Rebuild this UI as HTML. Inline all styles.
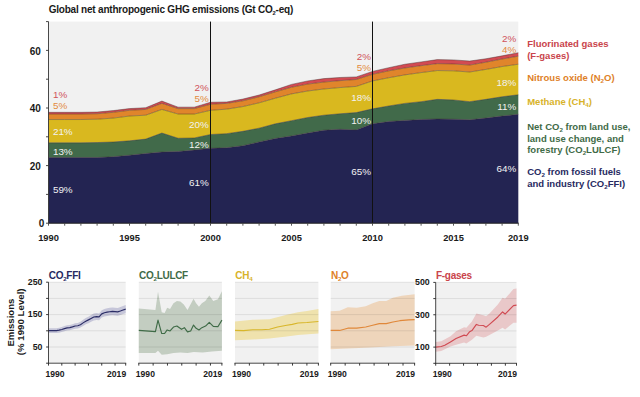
<!DOCTYPE html>
<html><head><meta charset="utf-8"><style>
html,body{margin:0;padding:0;background:#fff;width:640px;height:397px;overflow:hidden}
svg{display:block}
text{font-family:"Liberation Sans",sans-serif}
.b10{font-size:10px;font-weight:bold;fill:#1a1a1a}
.b95{font-size:9.5px;font-weight:bold;fill:#1a1a1a}
.b9{font-size:9px;font-weight:bold;fill:#1a1a1a}
.b8{font-size:8px;font-weight:bold;fill:#1a1a1a}
.b85{font-size:8.6px;font-weight:bold;fill:#1a1a1a}
.b88{font-size:8.8px;font-weight:bold;fill:#1a1a1a}
.r9{font-size:9.9px}
</style></head><body>
<svg width="640" height="397" viewBox="0 0 640 397">
<rect x="48.5" y="21.6" width="469.8" height="201.6" fill="#f1f1f1"/>
<path d="M48.5,112.32 L64.7,112.32 L80.9,112.32 L97.1,112.03 L113.3,110.59 L129.5,108.58 L145.7,107.71 L161.9,101.09 L178.1,107.14 L194.3,107.14 L210.5,102.24 L226.7,101.95 L242.9,99.07 L259.1,95.04 L275.3,89.86 L291.5,84.38 L307.7,80.93 L323.9,78.62 L340.1,77.47 L356.3,76.9 L372.5,71.42 L388.7,67.68 L404.9,64.22 L421.1,61.92 L437.3,59.62 L453.5,59.9 L469.7,61.06 L485.9,58.75 L502.1,55.87 L518.3,52.7 L518.3,56.16 L502.1,59.04 L485.9,62.21 L469.7,65.09 L453.5,63.94 L437.3,63.65 L421.1,65.66 L404.9,67.97 L388.7,70.85 L372.5,74.3 L356.3,79.49 L340.1,80.64 L323.9,82.08 L307.7,84.1 L291.5,87.26 L275.3,91.87 L259.1,96.77 L242.9,100.8 L226.7,103.39 L210.5,104.26 L194.3,108.58 L178.1,108.58 L161.9,103.39 L145.7,109.44 L129.5,110.3 L113.3,112.32 L97.1,113.76 L80.9,114.05 L64.7,114.05 L48.5,114.05Z" fill="#d24b52"/>
<path d="M48.5,114.05 L64.7,114.05 L80.9,114.05 L97.1,113.76 L113.3,112.32 L129.5,110.3 L145.7,109.44 L161.9,103.39 L178.1,108.58 L194.3,108.58 L210.5,104.26 L226.7,103.39 L242.9,100.8 L259.1,96.77 L275.3,91.87 L291.5,87.26 L307.7,84.1 L323.9,82.08 L340.1,80.64 L356.3,79.49 L372.5,74.3 L388.7,70.85 L404.9,67.97 L421.1,65.66 L437.3,63.65 L453.5,63.94 L469.7,65.09 L485.9,62.21 L502.1,59.04 L518.3,56.16 L518.3,64.22 L502.1,66.53 L485.9,69.41 L469.7,72 L453.5,70.85 L437.3,70.56 L421.1,72.58 L404.9,74.88 L388.7,77.76 L372.5,80.93 L356.3,86.4 L340.1,87.55 L323.9,88.99 L307.7,91.01 L291.5,93.89 L275.3,98.21 L259.1,102.82 L242.9,106.56 L226.7,109.15 L210.5,110.3 L194.3,114.05 L178.1,114.05 L161.9,109.44 L145.7,115.2 L129.5,116.06 L113.3,118.08 L97.1,119.23 L80.9,119.52 L64.7,119.52 L48.5,119.52Z" fill="#e0852b"/>
<path d="M48.5,119.52 L64.7,119.52 L80.9,119.52 L97.1,119.23 L113.3,118.08 L129.5,116.06 L145.7,115.2 L161.9,109.44 L178.1,114.05 L194.3,114.05 L210.5,110.3 L226.7,109.15 L242.9,106.56 L259.1,102.82 L275.3,98.21 L291.5,93.89 L307.7,91.01 L323.9,88.99 L340.1,87.55 L356.3,86.4 L372.5,80.93 L388.7,77.76 L404.9,74.88 L421.1,72.58 L437.3,70.56 L453.5,70.85 L469.7,72 L485.9,69.41 L502.1,66.53 L518.3,64.22 L518.3,94.75 L502.1,96.77 L485.9,99.36 L469.7,101.66 L453.5,99.94 L437.3,99.36 L421.1,101.66 L404.9,103.39 L388.7,105.98 L372.5,108.86 L356.3,112.61 L340.1,113.76 L323.9,115.2 L307.7,117.5 L291.5,120.67 L275.3,123.84 L259.1,128.16 L242.9,131.33 L226.7,133.63 L210.5,134.5 L194.3,137.95 L178.1,138.24 L161.9,133.06 L145.7,139.1 L129.5,140.83 L113.3,141.98 L97.1,142.56 L80.9,142.85 L64.7,142.85 L48.5,142.85Z" fill="#d9b81f"/>
<path d="M48.5,142.85 L64.7,142.85 L80.9,142.85 L97.1,142.56 L113.3,141.98 L129.5,140.83 L145.7,139.1 L161.9,133.06 L178.1,138.24 L194.3,137.95 L210.5,134.5 L226.7,133.63 L242.9,131.33 L259.1,128.16 L275.3,123.84 L291.5,120.67 L307.7,117.5 L323.9,115.2 L340.1,113.76 L356.3,112.61 L372.5,108.86 L388.7,105.98 L404.9,103.39 L421.1,101.66 L437.3,99.36 L453.5,99.94 L469.7,101.66 L485.9,99.36 L502.1,96.77 L518.3,94.75 L518.3,114.34 L502.1,116.06 L485.9,118.08 L469.7,119.81 L453.5,119.23 L437.3,118.94 L421.1,119.52 L404.9,120.38 L388.7,121.54 L372.5,123.84 L356.3,129.89 L340.1,129.31 L323.9,130.18 L307.7,133.06 L291.5,135.94 L275.3,138.53 L259.1,141.98 L242.9,145.73 L226.7,147.74 L210.5,148.32 L194.3,150.05 L178.1,151.49 L161.9,152.06 L145.7,153.5 L129.5,155.23 L113.3,156.67 L97.1,157.54 L80.9,157.54 L64.7,157.54 L48.5,157.54Z" fill="#416a4a"/>
<path d="M48.5,157.54 L64.7,157.54 L80.9,157.54 L97.1,157.54 L113.3,156.67 L129.5,155.23 L145.7,153.5 L161.9,152.06 L178.1,151.49 L194.3,150.05 L210.5,148.32 L226.7,147.74 L242.9,145.73 L259.1,141.98 L275.3,138.53 L291.5,135.94 L307.7,133.06 L323.9,130.18 L340.1,129.31 L356.3,129.89 L372.5,123.84 L388.7,121.54 L404.9,120.38 L421.1,119.52 L437.3,118.94 L453.5,119.23 L469.7,119.81 L485.9,118.08 L502.1,116.06 L518.3,114.34 L518.3,223.2 L48.5,223.2Z" fill="#232452"/>
<path d="M48.5,112.32 L64.7,112.32 L80.9,112.32 L97.1,112.03 L113.3,110.59 L129.5,108.58 L145.7,107.71 L161.9,101.09 L178.1,107.14 L194.3,107.14 L210.5,102.24 L226.7,101.95 L242.9,99.07 L259.1,95.04 L275.3,89.86 L291.5,84.38 L307.7,80.93 L323.9,78.62 L340.1,77.47 L356.3,76.9 L372.5,71.42 L388.7,67.68 L404.9,64.22 L421.1,61.92 L437.3,59.62 L453.5,59.9 L469.7,61.06 L485.9,58.75 L502.1,55.87 L518.3,52.7" fill="none" stroke="#3a2a2a" stroke-opacity="0.7" stroke-width="0.6"/>
<path d="M48.5,114.05 L64.7,114.05 L80.9,114.05 L97.1,113.76 L113.3,112.32 L129.5,110.3 L145.7,109.44 L161.9,103.39 L178.1,108.58 L194.3,108.58 L210.5,104.26 L226.7,103.39 L242.9,100.8 L259.1,96.77 L275.3,91.87 L291.5,87.26 L307.7,84.1 L323.9,82.08 L340.1,80.64 L356.3,79.49 L372.5,74.3 L388.7,70.85 L404.9,67.97 L421.1,65.66 L437.3,63.65 L453.5,63.94 L469.7,65.09 L485.9,62.21 L502.1,59.04 L518.3,56.16" fill="none" stroke="#3a2a2a" stroke-opacity="0.7" stroke-width="0.6"/>
<path d="M48.5,119.52 L64.7,119.52 L80.9,119.52 L97.1,119.23 L113.3,118.08 L129.5,116.06 L145.7,115.2 L161.9,109.44 L178.1,114.05 L194.3,114.05 L210.5,110.3 L226.7,109.15 L242.9,106.56 L259.1,102.82 L275.3,98.21 L291.5,93.89 L307.7,91.01 L323.9,88.99 L340.1,87.55 L356.3,86.4 L372.5,80.93 L388.7,77.76 L404.9,74.88 L421.1,72.58 L437.3,70.56 L453.5,70.85 L469.7,72 L485.9,69.41 L502.1,66.53 L518.3,64.22" fill="none" stroke="#3a2a2a" stroke-opacity="0.7" stroke-width="0.6"/>
<path d="M48.5,142.85 L64.7,142.85 L80.9,142.85 L97.1,142.56 L113.3,141.98 L129.5,140.83 L145.7,139.1 L161.9,133.06 L178.1,138.24 L194.3,137.95 L210.5,134.5 L226.7,133.63 L242.9,131.33 L259.1,128.16 L275.3,123.84 L291.5,120.67 L307.7,117.5 L323.9,115.2 L340.1,113.76 L356.3,112.61 L372.5,108.86 L388.7,105.98 L404.9,103.39 L421.1,101.66 L437.3,99.36 L453.5,99.94 L469.7,101.66 L485.9,99.36 L502.1,96.77 L518.3,94.75" fill="none" stroke="#3a2a2a" stroke-opacity="0.7" stroke-width="0.6"/>
<path d="M48.5,157.54 L64.7,157.54 L80.9,157.54 L97.1,157.54 L113.3,156.67 L129.5,155.23 L145.7,153.5 L161.9,152.06 L178.1,151.49 L194.3,150.05 L210.5,148.32 L226.7,147.74 L242.9,145.73 L259.1,141.98 L275.3,138.53 L291.5,135.94 L307.7,133.06 L323.9,130.18 L340.1,129.31 L356.3,129.89 L372.5,123.84 L388.7,121.54 L404.9,120.38 L421.1,119.52 L437.3,118.94 L453.5,119.23 L469.7,119.81 L485.9,118.08 L502.1,116.06 L518.3,114.34" fill="none" stroke="#3a2a2a" stroke-opacity="0.7" stroke-width="0.6"/>
<line x1="210.5" y1="21.6" x2="210.5" y2="223.2" stroke="#111" stroke-width="1"/>
<line x1="372.5" y1="21.6" x2="372.5" y2="223.2" stroke="#111" stroke-width="1"/>
<line x1="48.5" y1="21.6" x2="48.5" y2="223.7" stroke="#333" stroke-width="0.9"/>
<line x1="48.5" y1="223.2" x2="518.8" y2="223.2" stroke="#222" stroke-width="1"/>
<line x1="46" y1="223.2" x2="48.5" y2="223.2" stroke="#333" stroke-width="0.9"/>
<line x1="46" y1="194.4" x2="48.5" y2="194.4" stroke="#333" stroke-width="0.9"/>
<line x1="46" y1="165.6" x2="48.5" y2="165.6" stroke="#333" stroke-width="0.9"/>
<line x1="46" y1="136.8" x2="48.5" y2="136.8" stroke="#333" stroke-width="0.9"/>
<line x1="46" y1="108" x2="48.5" y2="108" stroke="#333" stroke-width="0.9"/>
<line x1="46" y1="79.2" x2="48.5" y2="79.2" stroke="#333" stroke-width="0.9"/>
<line x1="46" y1="50.4" x2="48.5" y2="50.4" stroke="#333" stroke-width="0.9"/>
<line x1="46" y1="21.6" x2="48.5" y2="21.6" stroke="#333" stroke-width="0.9"/>
<line x1="48.5" y1="223.2" x2="48.5" y2="225.7" stroke="#444" stroke-width="0.9"/>
<line x1="64.7" y1="223.2" x2="64.7" y2="225.7" stroke="#444" stroke-width="0.9"/>
<line x1="80.9" y1="223.2" x2="80.9" y2="225.7" stroke="#444" stroke-width="0.9"/>
<line x1="97.1" y1="223.2" x2="97.1" y2="225.7" stroke="#444" stroke-width="0.9"/>
<line x1="113.3" y1="223.2" x2="113.3" y2="225.7" stroke="#444" stroke-width="0.9"/>
<line x1="129.5" y1="223.2" x2="129.5" y2="225.7" stroke="#444" stroke-width="0.9"/>
<line x1="145.7" y1="223.2" x2="145.7" y2="225.7" stroke="#444" stroke-width="0.9"/>
<line x1="161.9" y1="223.2" x2="161.9" y2="225.7" stroke="#444" stroke-width="0.9"/>
<line x1="178.1" y1="223.2" x2="178.1" y2="225.7" stroke="#444" stroke-width="0.9"/>
<line x1="194.3" y1="223.2" x2="194.3" y2="225.7" stroke="#444" stroke-width="0.9"/>
<line x1="210.5" y1="223.2" x2="210.5" y2="225.7" stroke="#444" stroke-width="0.9"/>
<line x1="226.7" y1="223.2" x2="226.7" y2="225.7" stroke="#444" stroke-width="0.9"/>
<line x1="242.9" y1="223.2" x2="242.9" y2="225.7" stroke="#444" stroke-width="0.9"/>
<line x1="259.1" y1="223.2" x2="259.1" y2="225.7" stroke="#444" stroke-width="0.9"/>
<line x1="275.3" y1="223.2" x2="275.3" y2="225.7" stroke="#444" stroke-width="0.9"/>
<line x1="291.5" y1="223.2" x2="291.5" y2="225.7" stroke="#444" stroke-width="0.9"/>
<line x1="307.7" y1="223.2" x2="307.7" y2="225.7" stroke="#444" stroke-width="0.9"/>
<line x1="323.9" y1="223.2" x2="323.9" y2="225.7" stroke="#444" stroke-width="0.9"/>
<line x1="340.1" y1="223.2" x2="340.1" y2="225.7" stroke="#444" stroke-width="0.9"/>
<line x1="356.3" y1="223.2" x2="356.3" y2="225.7" stroke="#444" stroke-width="0.9"/>
<line x1="372.5" y1="223.2" x2="372.5" y2="225.7" stroke="#444" stroke-width="0.9"/>
<line x1="388.7" y1="223.2" x2="388.7" y2="225.7" stroke="#444" stroke-width="0.9"/>
<line x1="404.9" y1="223.2" x2="404.9" y2="225.7" stroke="#444" stroke-width="0.9"/>
<line x1="421.1" y1="223.2" x2="421.1" y2="225.7" stroke="#444" stroke-width="0.9"/>
<line x1="437.3" y1="223.2" x2="437.3" y2="225.7" stroke="#444" stroke-width="0.9"/>
<line x1="453.5" y1="223.2" x2="453.5" y2="225.7" stroke="#444" stroke-width="0.9"/>
<line x1="469.7" y1="223.2" x2="469.7" y2="225.7" stroke="#444" stroke-width="0.9"/>
<line x1="485.9" y1="223.2" x2="485.9" y2="225.7" stroke="#444" stroke-width="0.9"/>
<line x1="502.1" y1="223.2" x2="502.1" y2="225.7" stroke="#444" stroke-width="0.9"/>
<line x1="518.3" y1="223.2" x2="518.3" y2="225.7" stroke="#444" stroke-width="0.9"/>
<text x="44.3" y="227.3" text-anchor="end" class="b10">0</text>
<text x="40.8" y="169.7" text-anchor="end" class="b10">20</text>
<text x="40.8" y="112.1" text-anchor="end" class="b10">40</text>
<text x="40.8" y="54.5" text-anchor="end" class="b10">60</text>
<text x="48.5" y="240.5" text-anchor="middle" class="b9" style="font-size:9.3px">1990</text>
<text x="129.5" y="240.5" text-anchor="middle" class="b9" style="font-size:9.3px">1995</text>
<text x="210.5" y="240.5" text-anchor="middle" class="b9" style="font-size:9.3px">2000</text>
<text x="291.5" y="240.5" text-anchor="middle" class="b9" style="font-size:9.3px">2005</text>
<text x="372.5" y="240.5" text-anchor="middle" class="b9" style="font-size:9.3px">2010</text>
<text x="453.5" y="240.5" text-anchor="middle" class="b9" style="font-size:9.3px">2015</text>
<text x="518.3" y="240.5" text-anchor="middle" class="b9" style="font-size:9.3px">2019</text>
<text x="48.7" y="12.9" class="b10" style="letter-spacing:-0.21px">Global net anthropogenic GHG emissions (Gt CO<tspan font-size="5.8" dy="2.4">2</tspan><tspan dy="-2.4">-eq)</tspan></text>
<text x="52.9" y="98.3" text-anchor="start" class="r9" fill="#d0525a">1%</text>
<text x="52.9" y="108.9" text-anchor="start" class="r9" fill="#e38b3d">5%</text>
<text x="52.9" y="134.9" text-anchor="start" class="r9" fill="#f2f2f2">21%</text>
<text x="52.9" y="155.1" text-anchor="start" class="r9" fill="#f2f2f2">13%</text>
<text x="52.9" y="192.6" text-anchor="start" class="r9" fill="#f2f2f2">59%</text>
<text x="208.8" y="90.9" text-anchor="end" class="r9" fill="#d0525a">2%</text>
<text x="208.8" y="101.9" text-anchor="end" class="r9" fill="#e38b3d">5%</text>
<text x="208.8" y="127.6" text-anchor="end" class="r9" fill="#f2f2f2">20%</text>
<text x="208.8" y="148.3" text-anchor="end" class="r9" fill="#f2f2f2">12%</text>
<text x="208.8" y="185.6" text-anchor="end" class="r9" fill="#f2f2f2">61%</text>
<text x="371" y="60.1" text-anchor="end" class="r9" fill="#d0525a">2%</text>
<text x="371" y="71" text-anchor="end" class="r9" fill="#e38b3d">5%</text>
<text x="371" y="101.2" text-anchor="end" class="r9" fill="#f2f2f2">18%</text>
<text x="371" y="123.9" text-anchor="end" class="r9" fill="#f2f2f2">10%</text>
<text x="371" y="174.5" text-anchor="end" class="r9" fill="#f2f2f2">65%</text>
<text x="516.3" y="41.9" text-anchor="end" class="r9" fill="#d0525a">2%</text>
<text x="516.3" y="52.5" text-anchor="end" class="r9" fill="#e38b3d">4%</text>
<text x="516.3" y="85.6" text-anchor="end" class="r9" fill="#f2f2f2">18%</text>
<text x="516.3" y="110.1" text-anchor="end" class="r9" fill="#f2f2f2">11%</text>
<text x="516.3" y="171.9" text-anchor="end" class="r9" fill="#f2f2f2">64%</text>
<text x="527.2" y="46.6" class="b95" style="fill:#c9444b">Fluorinated gases</text>
<text x="527.2" y="58.6" class="b95" style="fill:#c9444b">(F-gases)</text>
<text x="527.2" y="81.1" class="b95" style="fill:#de8128">Nitrous oxide (N<tspan font-size="6.2" dy="2.2">2</tspan><tspan dy="-2.2">O)</tspan></text>
<text x="527.2" y="104.9" class="b95" style="fill:#d8b32a">Methane (CH<tspan font-size="6.2" dy="2.2">4</tspan><tspan dy="-2.2">)</tspan></text>
<text x="527.2" y="129.8" class="b95" style="fill:#3f6b47">Net CO<tspan font-size="6.2" dy="2.2">2</tspan><tspan dy="-2.2"> from land use,</tspan></text>
<text x="527.2" y="141.5" class="b95" style="fill:#3f6b47">land use change, and</text>
<text x="527.2" y="152.8" class="b95" style="fill:#3f6b47">forestry (CO<tspan font-size="6.2" dy="2.2">2</tspan><tspan dy="-2.2">LULCF)</tspan></text>
<text x="527.2" y="175.2" class="b95" style="fill:#272a61">CO<tspan font-size="6.2" dy="2.2">2</tspan><tspan dy="-2.2"> from fossil fuels</tspan></text>
<text x="527.2" y="186.7" class="b95" style="fill:#272a61">and industry (CO<tspan font-size="6.2" dy="2.2">2</tspan><tspan dy="-2.2">FFI)</tspan></text>
<rect x="48.5" y="282.2" width="77.2" height="81" fill="#f1f1f1"/>
<path d="M48.5,328.15 L51.16,328.15 L53.82,328.15 L56.49,328.15 L59.15,327.69 L61.81,326.93 L64.47,326 L67.13,325.23 L69.8,324.93 L72.46,324.16 L75.12,323.24 L77.78,322.93 L80.44,321.85 L83.11,319.85 L85.77,318.01 L88.43,316.63 L91.09,315.09 L93.76,313.55 L96.42,313.09 L99.08,313.4 L101.74,310.17 L104.4,308.94 L107.07,308.33 L109.73,307.87 L112.39,307.56 L115.05,307.71 L117.71,308.02 L120.38,307.1 L123.04,306.02 L125.7,305.1 L125.7,313.21 L123.04,314 L120.38,314.93 L117.71,315.72 L115.05,315.45 L112.39,315.32 L109.73,315.59 L107.07,315.98 L104.4,316.51 L101.74,317.57 L99.08,320.35 L96.42,320.08 L93.76,320.48 L91.09,321.8 L88.43,323.13 L85.77,324.32 L83.11,325.9 L80.44,327.62 L77.78,328.55 L75.12,328.81 L72.46,329.61 L69.8,330.27 L67.13,330.53 L64.47,331.19 L61.81,331.99 L59.15,332.65 L56.49,333.04 L53.82,333.04 L51.16,333.04 L48.5,333.04Z" fill="#c6c6d9"/>
<line x1="48.5" y1="347" x2="125.7" y2="347" stroke="#000" stroke-opacity="0.11" stroke-width="0.8"/>
<line x1="48.5" y1="330.8" x2="125.7" y2="330.8" stroke="#000" stroke-opacity="0.11" stroke-width="0.8"/>
<line x1="48.5" y1="314.6" x2="125.7" y2="314.6" stroke="#000" stroke-opacity="0.11" stroke-width="0.8"/>
<line x1="48.5" y1="298.4" x2="125.7" y2="298.4" stroke="#000" stroke-opacity="0.11" stroke-width="0.8"/>
<line x1="48.5" y1="282.2" x2="125.7" y2="282.2" stroke="#000" stroke-opacity="0.11" stroke-width="0.8"/>
<path d="M48.5,330.6 L51.16,330.6 L53.82,330.6 L56.49,330.6 L59.15,330.17 L61.81,329.46 L64.47,328.6 L67.13,327.88 L69.8,327.6 L72.46,326.88 L75.12,326.02 L77.78,325.74 L80.44,324.74 L83.11,322.88 L85.77,321.16 L88.43,319.88 L91.09,318.45 L93.76,317.02 L96.42,316.59 L99.08,316.87 L101.74,313.87 L104.4,312.73 L107.07,312.16 L109.73,311.73 L112.39,311.44 L115.05,311.58 L117.71,311.87 L120.38,311.01 L123.04,310.01 L125.7,309.15" fill="none" stroke="#2b2d66" stroke-width="1.15" stroke-linejoin="round"/>
<line x1="48" y1="363.2" x2="126.2" y2="363.2" stroke="#333" stroke-width="0.9"/>
<line x1="48.5" y1="363.2" x2="48.5" y2="365.6" stroke="#222" stroke-width="0.9"/>
<line x1="61.81" y1="363.2" x2="61.81" y2="365.6" stroke="#222" stroke-width="0.9"/>
<line x1="75.12" y1="363.2" x2="75.12" y2="365.6" stroke="#222" stroke-width="0.9"/>
<line x1="88.43" y1="363.2" x2="88.43" y2="365.6" stroke="#222" stroke-width="0.9"/>
<line x1="101.74" y1="363.2" x2="101.74" y2="365.6" stroke="#222" stroke-width="0.9"/>
<line x1="115.05" y1="363.2" x2="115.05" y2="365.6" stroke="#222" stroke-width="0.9"/>
<line x1="125.7" y1="363.2" x2="125.7" y2="365.6" stroke="#222" stroke-width="0.9"/>
<line x1="48.5" y1="282.2" x2="48.5" y2="363.2" stroke="#333" stroke-width="0.9"/>
<line x1="46.1" y1="363.2" x2="48.5" y2="363.2" stroke="#222" stroke-width="0.9"/>
<line x1="46.1" y1="347" x2="48.5" y2="347" stroke="#222" stroke-width="0.9"/>
<line x1="46.1" y1="330.8" x2="48.5" y2="330.8" stroke="#222" stroke-width="0.9"/>
<line x1="46.1" y1="314.6" x2="48.5" y2="314.6" stroke="#222" stroke-width="0.9"/>
<line x1="46.1" y1="298.4" x2="48.5" y2="298.4" stroke="#222" stroke-width="0.9"/>
<line x1="46.1" y1="282.2" x2="48.5" y2="282.2" stroke="#222" stroke-width="0.9"/>
<text x="42.5" y="284.8" text-anchor="end" class="b88">250</text>
<text x="42.5" y="317.4" text-anchor="end" class="b88">150</text>
<text x="42.5" y="350" text-anchor="end" class="b88">50</text>
<text x="45.5" y="377.4" text-anchor="start" class="b85">1990</text>
<text x="126.2" y="377.4" text-anchor="end" class="b85">2019</text>
<text x="48.8" y="279" class="b10" style="fill:#272a61;letter-spacing:-0.3px">CO<tspan font-size="6.2" dy="2.2">2</tspan><tspan dy="-2.2">FFI</tspan></text>
<rect x="138.8" y="282.2" width="83.1" height="81" fill="#f1f1f1"/>
<path d="M138.8,308.43 L155.42,310.06 L158,291.81 L161.72,312.34 L164.59,313 L167.17,307.78 L170.03,308.92 L173.47,303.22 L176.91,300.93 L180.35,301.59 L183.79,304.52 L187.51,310.06 L193.53,298.65 L196.11,303.22 L198.98,306.64 L201.84,303.22 L205.28,300.93 L209.29,295.39 L213.3,300.93 L217.89,299.3 L221.9,291.15 L221.9,350.81 L211.87,351.46 L202.7,352.44 L193.82,352.12 L187.51,353.09 L180.35,352.44 L173.47,353.09 L167.17,354.24 L161.72,354.72 L158,350.81 L155.42,353.09 L138.8,353.09Z" fill="#c3cdc1"/>
<line x1="138.8" y1="347" x2="221.9" y2="347" stroke="#000" stroke-opacity="0.11" stroke-width="0.8"/>
<line x1="138.8" y1="330.8" x2="221.9" y2="330.8" stroke="#000" stroke-opacity="0.11" stroke-width="0.8"/>
<line x1="138.8" y1="314.6" x2="221.9" y2="314.6" stroke="#000" stroke-opacity="0.11" stroke-width="0.8"/>
<line x1="138.8" y1="298.4" x2="221.9" y2="298.4" stroke="#000" stroke-opacity="0.11" stroke-width="0.8"/>
<line x1="138.8" y1="282.2" x2="221.9" y2="282.2" stroke="#000" stroke-opacity="0.11" stroke-width="0.8"/>
<path d="M138.8,330.44 L155.42,331.58 L158,320.17 L161.72,333.53 L164.59,333.53 L167.17,329.95 L170.03,330.93 L173.47,327.01 L176.91,326.04 L181.5,329.3 L184.36,327.67 L187.51,331.9 L190.67,330.93 L193.53,325.06 L196.11,328.32 L198.98,329.95 L201.84,327.67 L205.57,326.04 L209.29,322.45 L213.3,326.36 L217.89,326.69 L221.9,320.17" fill="none" stroke="#3f6b47" stroke-width="1.15" stroke-linejoin="round"/>
<line x1="138.3" y1="363.2" x2="222.4" y2="363.2" stroke="#333" stroke-width="0.9"/>
<line x1="138.8" y1="363.2" x2="138.8" y2="365.6" stroke="#222" stroke-width="0.9"/>
<line x1="153.13" y1="363.2" x2="153.13" y2="365.6" stroke="#222" stroke-width="0.9"/>
<line x1="167.46" y1="363.2" x2="167.46" y2="365.6" stroke="#222" stroke-width="0.9"/>
<line x1="181.78" y1="363.2" x2="181.78" y2="365.6" stroke="#222" stroke-width="0.9"/>
<line x1="196.11" y1="363.2" x2="196.11" y2="365.6" stroke="#222" stroke-width="0.9"/>
<line x1="210.44" y1="363.2" x2="210.44" y2="365.6" stroke="#222" stroke-width="0.9"/>
<line x1="221.9" y1="363.2" x2="221.9" y2="365.6" stroke="#222" stroke-width="0.9"/>
<text x="135.8" y="377.4" text-anchor="start" class="b85">1990</text>
<text x="222.4" y="377.4" text-anchor="end" class="b85">2019</text>
<text x="139.1" y="279" class="b10" style="fill:#3f6b47;letter-spacing:-0.3px">CO<tspan font-size="6.2" dy="2.2">2</tspan><tspan dy="-2.2">LULCF</tspan></text>
<rect x="235" y="282.2" width="83.4" height="81" fill="#f1f1f1"/>
<path d="M235,321.47 L252.54,319.84 L269.51,319.19 L286.77,314.63 L297.98,312.34 L306.9,311.04 L318.4,308.89 L318.4,333.4 L297.98,335 L286.77,336.57 L269.51,338.42 L252.54,339.53 L235,340.22Z" fill="#efe2ad"/>
<line x1="235" y1="347" x2="318.4" y2="347" stroke="#000" stroke-opacity="0.11" stroke-width="0.8"/>
<line x1="235" y1="330.8" x2="318.4" y2="330.8" stroke="#000" stroke-opacity="0.11" stroke-width="0.8"/>
<line x1="235" y1="314.6" x2="318.4" y2="314.6" stroke="#000" stroke-opacity="0.11" stroke-width="0.8"/>
<line x1="235" y1="298.4" x2="318.4" y2="298.4" stroke="#000" stroke-opacity="0.11" stroke-width="0.8"/>
<line x1="235" y1="282.2" x2="318.4" y2="282.2" stroke="#000" stroke-opacity="0.11" stroke-width="0.8"/>
<path d="M235,330.44 L243.63,330.6 L252.54,329.75 L261.75,329.75 L269.51,329.3 L277.56,327.01 L286.77,325.22 L292.23,324.41 L297.98,322.97 L306.9,322.45 L318.4,321.47" fill="none" stroke="#d8b62a" stroke-width="1.15" stroke-linejoin="round"/>
<line x1="234.5" y1="363.2" x2="318.9" y2="363.2" stroke="#333" stroke-width="0.9"/>
<line x1="235" y1="363.2" x2="235" y2="365.6" stroke="#222" stroke-width="0.9"/>
<line x1="249.38" y1="363.2" x2="249.38" y2="365.6" stroke="#222" stroke-width="0.9"/>
<line x1="263.76" y1="363.2" x2="263.76" y2="365.6" stroke="#222" stroke-width="0.9"/>
<line x1="278.14" y1="363.2" x2="278.14" y2="365.6" stroke="#222" stroke-width="0.9"/>
<line x1="292.52" y1="363.2" x2="292.52" y2="365.6" stroke="#222" stroke-width="0.9"/>
<line x1="306.9" y1="363.2" x2="306.9" y2="365.6" stroke="#222" stroke-width="0.9"/>
<line x1="318.4" y1="363.2" x2="318.4" y2="365.6" stroke="#222" stroke-width="0.9"/>
<text x="232" y="377.4" text-anchor="start" class="b85">1990</text>
<text x="318.9" y="377.4" text-anchor="end" class="b85">2019</text>
<text x="235.3" y="279" class="b10" style="fill:#d8b32a;letter-spacing:-0.3px">CH<tspan font-size="6.2" dy="2.2">4</tspan><tspan dy="-2.2"></tspan></text>
<rect x="330.7" y="282.2" width="83.9" height="81" fill="#f1f1f1"/>
<path d="M330.7,311.17 L339.67,310.71 L347.77,307.13 L356.74,307.78 L365.71,306.15 L372.65,303.22 L379.3,300.93 L386.25,300.93 L392.9,297.67 L401.87,295.72 L414.6,294.15 L414.6,345.6 L392.9,346.31 L370.34,347.42 L347.77,348.6 L330.7,349.25Z" fill="#eed5bb"/>
<line x1="330.7" y1="347" x2="414.6" y2="347" stroke="#000" stroke-opacity="0.11" stroke-width="0.8"/>
<line x1="330.7" y1="330.8" x2="414.6" y2="330.8" stroke="#000" stroke-opacity="0.11" stroke-width="0.8"/>
<line x1="330.7" y1="314.6" x2="414.6" y2="314.6" stroke="#000" stroke-opacity="0.11" stroke-width="0.8"/>
<line x1="330.7" y1="298.4" x2="414.6" y2="298.4" stroke="#000" stroke-opacity="0.11" stroke-width="0.8"/>
<line x1="330.7" y1="282.2" x2="414.6" y2="282.2" stroke="#000" stroke-opacity="0.11" stroke-width="0.8"/>
<path d="M330.7,330.44 L339.67,330.44 L347.77,328.19 L356.74,328.19 L365.71,327.01 L372.65,325.22 L379.3,323.66 L386.25,323.66 L392.9,322.06 L399.85,320.69 L408.81,319.84 L414.6,319.61" fill="none" stroke="#e0883a" stroke-width="1.15" stroke-linejoin="round"/>
<line x1="330.2" y1="363.2" x2="415.1" y2="363.2" stroke="#333" stroke-width="0.9"/>
<line x1="330.7" y1="363.2" x2="330.7" y2="365.6" stroke="#222" stroke-width="0.9"/>
<line x1="345.17" y1="363.2" x2="345.17" y2="365.6" stroke="#222" stroke-width="0.9"/>
<line x1="359.63" y1="363.2" x2="359.63" y2="365.6" stroke="#222" stroke-width="0.9"/>
<line x1="374.1" y1="363.2" x2="374.1" y2="365.6" stroke="#222" stroke-width="0.9"/>
<line x1="388.56" y1="363.2" x2="388.56" y2="365.6" stroke="#222" stroke-width="0.9"/>
<line x1="403.03" y1="363.2" x2="403.03" y2="365.6" stroke="#222" stroke-width="0.9"/>
<line x1="414.6" y1="363.2" x2="414.6" y2="365.6" stroke="#222" stroke-width="0.9"/>
<text x="327.7" y="377.4" text-anchor="start" class="b85">1990</text>
<text x="415.1" y="377.4" text-anchor="end" class="b85">2019</text>
<text x="331" y="279" class="b10" style="fill:#de8128;letter-spacing:-0.3px">N<tspan font-size="6.2" dy="2.2">2</tspan><tspan dy="-2.2">O</tspan></text>
<rect x="435.7" y="282.4" width="80.8" height="80.9" fill="#f1f1f1"/>
<path d="M435.7,341.92 L441.27,341.27 L450.47,336.25 L456.04,331.22 L464.12,327.17 L466.35,327.66 L471.92,321.5 L476.38,313.57 L483.34,315.35 L486.13,316.32 L489.47,313.57 L497.83,304.49 L502.57,297.69 L505.08,298.82 L513.44,289.1 L516.5,288.62 L516.5,322.64 L513.44,322.64 L505.08,329.44 L502.57,327.66 L497.83,330.58 L489.47,335.11 L486.13,336.73 L483.34,337.38 L476.38,335.76 L471.92,339.65 L466.35,343.54 L464.12,342.56 L456.04,344.83 L450.47,346.45 L441.27,350.99 L435.7,351.64Z" fill="#e9c8c9"/>
<line x1="435.7" y1="347.12" x2="516.5" y2="347.12" stroke="#000" stroke-opacity="0.11" stroke-width="0.8"/>
<line x1="435.7" y1="330.94" x2="516.5" y2="330.94" stroke="#000" stroke-opacity="0.11" stroke-width="0.8"/>
<line x1="435.7" y1="314.76" x2="516.5" y2="314.76" stroke="#000" stroke-opacity="0.11" stroke-width="0.8"/>
<line x1="435.7" y1="298.58" x2="516.5" y2="298.58" stroke="#000" stroke-opacity="0.11" stroke-width="0.8"/>
<line x1="435.7" y1="282.4" x2="516.5" y2="282.4" stroke="#000" stroke-opacity="0.11" stroke-width="0.8"/>
<path d="M435.7,347.1 L441.27,346.45 L444.76,345.32 L450.47,341.92 L456.04,338.51 L464.12,335.11 L466.35,335.76 L469.69,331.71 L471.92,330.58 L476.38,324.42 L478.61,325.23 L483.34,325.55 L486.13,327.17 L489.47,324.42 L497.83,316.97 L502.57,311.95 L505.08,314.05 L513.44,305.63 L516.5,305.14" fill="none" stroke="#d04a52" stroke-width="1.15" stroke-linejoin="round"/>
<line x1="435.2" y1="363.3" x2="517" y2="363.3" stroke="#333" stroke-width="0.9"/>
<line x1="435.7" y1="363.3" x2="435.7" y2="365.7" stroke="#222" stroke-width="0.9"/>
<line x1="449.63" y1="363.3" x2="449.63" y2="365.7" stroke="#222" stroke-width="0.9"/>
<line x1="463.56" y1="363.3" x2="463.56" y2="365.7" stroke="#222" stroke-width="0.9"/>
<line x1="477.49" y1="363.3" x2="477.49" y2="365.7" stroke="#222" stroke-width="0.9"/>
<line x1="491.42" y1="363.3" x2="491.42" y2="365.7" stroke="#222" stroke-width="0.9"/>
<line x1="505.36" y1="363.3" x2="505.36" y2="365.7" stroke="#222" stroke-width="0.9"/>
<line x1="516.5" y1="363.3" x2="516.5" y2="365.7" stroke="#222" stroke-width="0.9"/>
<line x1="435.7" y1="282.4" x2="435.7" y2="363.3" stroke="#333" stroke-width="0.9"/>
<line x1="433.3" y1="363.3" x2="435.7" y2="363.3" stroke="#222" stroke-width="0.9"/>
<line x1="433.3" y1="347.12" x2="435.7" y2="347.12" stroke="#222" stroke-width="0.9"/>
<line x1="433.3" y1="330.94" x2="435.7" y2="330.94" stroke="#222" stroke-width="0.9"/>
<line x1="433.3" y1="314.76" x2="435.7" y2="314.76" stroke="#222" stroke-width="0.9"/>
<line x1="433.3" y1="298.58" x2="435.7" y2="298.58" stroke="#222" stroke-width="0.9"/>
<line x1="433.3" y1="282.4" x2="435.7" y2="282.4" stroke="#222" stroke-width="0.9"/>
<text x="429.7" y="285.4" text-anchor="end" class="b88">500</text>
<text x="429.7" y="317.8" text-anchor="end" class="b88">300</text>
<text x="429.7" y="350.2" text-anchor="end" class="b88">100</text>
<text x="432.7" y="377.4" text-anchor="start" class="b85">1990</text>
<text x="517" y="377.4" text-anchor="end" class="b85">2019</text>
<text x="436" y="279" class="b10" style="fill:#c9444b;letter-spacing:-0.3px">F-gases</text>
<text transform="translate(14.2,322.6) rotate(-90)" text-anchor="middle" class="b10" style="font-size:9.6px">Emissions</text>
<text transform="translate(24.4,321.8) rotate(-90)" text-anchor="middle" class="b95" style="font-size:9.7px">(% 1990 Level)</text>
</svg>
</body></html>
